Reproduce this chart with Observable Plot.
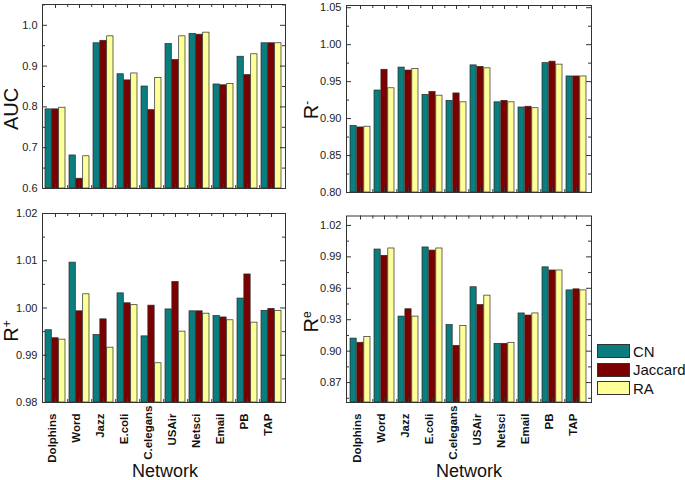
<!DOCTYPE html>
<html>
<head>
<meta charset="utf-8">
<script src="https://cdn.jsdelivr.net/npm/d3@7"></script>
<script src="https://cdn.jsdelivr.net/npm/@observablehq/plot@0.6"></script>
<style>
  html, body { margin: 0; padding: 0; background: #fff; }
  #chart { position: relative; width: 685px; height: 480px; font-family: "Liberation Sans", Arial, sans-serif; color: #111; overflow: hidden; }
  #chart svg { position: absolute; left: 0; top: 0; }
  .ytitle { position: absolute; font-size: 20px; white-space: nowrap; transform: translate(-50%, -50%) rotate(-90deg); line-height: 1; }
  .ytitle sup { font-size: 12px; }
  .xtitle { position: absolute; font-size: 18px; transform: translateX(-50%); line-height: 1; white-space: nowrap; }
  .sw { position: absolute; width: 31px; height: 12px; border: 1px solid #333; }
  .swl { position: absolute; font-size: 15px; line-height: 1; white-space: nowrap; }
</style>
</head>
<body>
<div id="chart"></div>
<script>
// ---- data ----
const networks = ["Dolphins", "Word", "Jazz", "E.coli", "C.elegans", "USAir", "Netsci", "Email", "PB", "TAP"];
const series = ["CN", "Jaccard", "RA"];
const colors = ["#0b7d7d", "#7d0000", "#ffff99"];

const aucCN      = [0.794, 0.681, 0.956, 0.880, 0.850, 0.954, 0.979, 0.855, 0.923, 0.956];
const aucJaccard = [0.794, 0.624, 0.962, 0.865, 0.792, 0.915, 0.977, 0.853, 0.878, 0.956];
const aucRA      = [0.798, 0.679, 0.973, 0.882, 0.871, 0.973, 0.982, 0.856, 0.929, 0.956];

const rmCN       = [0.890, 0.938, 0.969, 0.932, 0.924, 0.972, 0.922, 0.915, 0.975, 0.957];
const rmJaccard  = [0.888, 0.966, 0.965, 0.936, 0.934, 0.970, 0.924, 0.916, 0.977, 0.957];
const rmRA       = [0.889, 0.941, 0.967, 0.931, 0.922, 0.968, 0.922, 0.914, 0.973, 0.957];

const rpCN       = [0.9953, 1.0096, 0.9943, 1.0031, 0.9940, 0.9997, 0.9993, 0.9983, 1.0020, 0.9994];
const rpJaccard  = [0.9936, 0.9993, 0.9976, 1.0010, 1.0005, 1.0055, 0.9993, 0.9980, 1.0071, 0.9998];
const rpRA       = [0.9933, 1.0029, 0.9916, 1.0006, 0.9883, 0.9950, 0.9988, 0.9974, 0.9969, 0.9994];

const reCN       = [0.912, 0.997, 0.933, 0.999, 0.925, 0.961, 0.907, 0.936, 0.980, 0.958];
const reJaccard  = [0.908, 0.991, 0.940, 0.996, 0.905, 0.944, 0.907, 0.934, 0.977, 0.959];
const reRA       = [0.9135, 0.998, 0.933, 0.998, 0.924, 0.953, 0.908, 0.936, 0.977, 0.958];

const aucTicks = [0.6, 0.7, 0.8, 0.9, 1.0];
const aucMinor = [0.65, 0.75, 0.85, 0.95, 1.05];
const rmTicks  = [0.80, 0.85, 0.90, 0.95, 1.00, 1.05];
const rmMinor  = [0.825, 0.875, 0.925, 0.975, 1.025];
const rpTicks  = [0.98, 0.99, 1.00, 1.01, 1.02];
const rpMinor  = [0.985, 0.995, 1.005, 1.015];
const reTicks  = [0.87, 0.90, 0.93, 0.96, 0.99, 1.02];
const reMinor  = [0.855, 0.885, 0.915, 0.945, 0.975, 1.005];

// ---- drawing ----
const W = 685, H = 480;
const chart = document.getElementById("chart");

function panel(cfg) {
  const {left, right, top, bottom, domain, ticks, minor, fmt, values, xlabels} = cfg;
  const fw = right - left, fh = bottom - top;
  const pi = 0.16, po = 0.05;
  const step = fw / (networks.length - pi + 2 * po);
  const bw = step * (1 - pi);
  const barW = bw / 3;
  const rows = [];
  series.forEach((s, si) => networks.forEach((n, ni) => rows.push({network: n, series: s, value: values[si][ni]})));
  const tickStroke = "#333";
  const marks = [];
  series.forEach((s, i) => {
    marks.push(Plot.barY(rows.filter(r => r.series === s), {
      x: "network", y1: () => domain[0], y2: "value",
      insetLeft: i * barW, insetRight: (2 - i) * barW,
      fill: colors[i], stroke: "#2a2a2a", strokeWidth: 0.7
    }));
  });
  marks.push(
    Plot.frame({stroke: "#333", strokeWidth: 1}),
    Plot.ruleY(ticks, {y: d => d, insetRight: fw - 5, stroke: tickStroke}),
    Plot.ruleY(ticks, {y: d => d, insetLeft: fw - 5, stroke: tickStroke}),
    Plot.ruleY(minor, {y: d => d, insetRight: fw - 3, stroke: tickStroke}),
    Plot.ruleY(minor, {y: d => d, insetLeft: fw - 3, stroke: tickStroke}),
    Plot.ruleX(networks, {x: d => d, insetBottom: fh - 4, stroke: tickStroke}),
    Plot.ruleX(networks.slice(0, -1), {x: d => d, dx: step / 2, insetBottom: fh - 3, stroke: tickStroke}),
    Plot.ruleX(networks, {x: d => d, insetTop: fh - 4, stroke: tickStroke}),
    Plot.ruleX(networks.slice(0, -1), {x: d => d, dx: step / 2, insetTop: fh - 3, stroke: tickStroke}),
    Plot.text(ticks, {y: d => d, frameAnchor: "left", textAnchor: "end", dx: -5, text: d => fmt(d), fontSize: 11, fill: "#222"})
  );
  if (xlabels) {
    const other = networks.filter(n => n !== "C.elegans");
    marks.push(
      Plot.text(other, {x: d => d, frameAnchor: "bottom", rotate: -90, textAnchor: "end", dy: 11, fontSize: 11.5, fontWeight: "bold", fill: "#111"}),
      Plot.text(["C.elegans"], {x: d => d, frameAnchor: "bottom", rotate: -90, textAnchor: "end", dy: 3, fontSize: 11.5, fontWeight: "bold", fill: "#111"})
    );
  }
  const svg = Plot.plot({
    width: W, height: H,
    marginLeft: left, marginRight: W - right, marginTop: top, marginBottom: H - bottom,
    x: {type: "band", domain: networks, paddingInner: pi, paddingOuter: po, axis: null},
    y: {domain, axis: null},
    style: {background: "transparent", fontFamily: "'Liberation Sans', Arial, sans-serif", overflow: "visible"},
    marks
  });
  chart.appendChild(svg);
}

panel({left: 42, right: 285, top: 4, bottom: 188, domain: [0.6, 1.051], ticks: aucTicks, minor: aucMinor,
  fmt: d3.format(".1f"), values: [aucCN, aucJaccard, aucRA], xlabels: false});
panel({left: 346, right: 591, top: 5, bottom: 192, domain: [0.8, 1.053], ticks: rmTicks, minor: rmMinor,
  fmt: d3.format(".2f"), values: [rmCN, rmJaccard, rmRA], xlabels: false});
panel({left: 42, right: 285, top: 213, bottom: 402, domain: [0.98, 1.02], ticks: rpTicks, minor: rpMinor,
  fmt: d3.format(".2f"), values: [rpCN, rpJaccard, rpRA], xlabels: true});
panel({left: 346, right: 591, top: 215.5, bottom: 402, domain: [0.851, 1.029], ticks: reTicks, minor: reMinor,
  fmt: d3.format(".2f"), values: [reCN, reJaccard, reRA], xlabels: true});

// ---- titles ----
function addHTML(cls, html, x, y) {
  const d = document.createElement("div");
  d.className = cls; d.innerHTML = html;
  d.style.left = x + "px"; d.style.top = y + "px";
  chart.appendChild(d);
}
addHTML("ytitle", "AUC", 11, 109);
addHTML("ytitle", "R<sup>-</sup>", 311, 110);
addHTML("ytitle", "R<sup>+</sup>", 11, 331);
addHTML("ytitle", "R<sup>e</sup>", 311, 322);
addHTML("xtitle", "Network", 165, 462);
addHTML("xtitle", "Network", 469, 462);

// ---- legend ----
series.forEach((s, i) => {
  const y = 344 + i * 18.5;
  const sw = document.createElement("div");
  sw.className = "sw"; sw.style.left = "597px"; sw.style.top = y + "px"; sw.style.background = colors[i];
  chart.appendChild(sw);
  addHTML("swl", s, 633, y - 0.5);
});
</script>
</body>
</html>
